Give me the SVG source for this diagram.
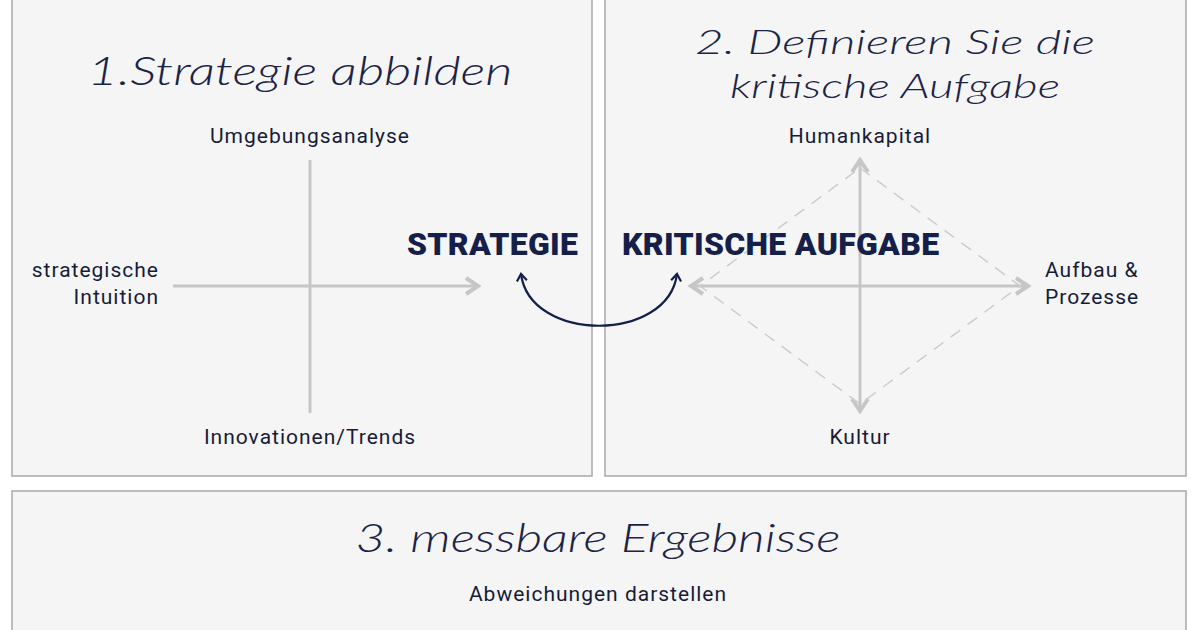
<svg xmlns="http://www.w3.org/2000/svg" width="1200" height="630" viewBox="0 0 1200 630">
<defs>
<style>
.panel{fill:#f5f5f5;stroke:#a9a9a9;stroke-width:1.5}
.script{font-family:Lato,"Liberation Serif",serif;font-style:italic;font-weight:300;fill:#1b2347;font-size:40px}
.script2{font-size:34px}
.lbl{font-family:Roboto,"Liberation Sans",sans-serif;fill:#161c38;font-size:21px;letter-spacing:1px}
.big{font-family:Roboto,"Liberation Sans",sans-serif;font-weight:900;fill:#15204a;font-size:32px;letter-spacing:0.3px}
.axis{stroke:#c6c6c6;stroke-width:3;fill:none}
.dash{stroke:#cdcdcd;stroke-width:1.5;fill:none;stroke-dasharray:12 9}
.curve{stroke:#15204a;stroke-width:2.2;fill:none}
</style>
<marker id="ga" viewBox="-14 -10 18 20" markerWidth="18" markerHeight="20" refX="0" refY="0" orient="auto-start-reverse" markerUnits="userSpaceOnUse">
<path d="M-12,-8 L0,0 L-12,8" fill="none" stroke="#c6c6c6" stroke-width="4" stroke-linejoin="miter"/>
</marker>
<marker id="na" viewBox="-10 -8 12 16" markerWidth="12" markerHeight="16" refX="0" refY="0" orient="auto-start-reverse" markerUnits="userSpaceOnUse">
<path d="M-7,-5 L0,0 L-7,5" fill="none" stroke="#15204a" stroke-width="2.2"/>
</marker>
</defs>
<rect width="1200" height="630" fill="#ffffff"/>
<g id="panel1">
<rect class="panel" x="12" y="-4" width="580" height="480"/>
<text class="script" x="300" y="85" text-anchor="middle" textLength="425" lengthAdjust="spacingAndGlyphs">1.Strategie abbilden</text>
<text class="lbl" x="310" y="143" text-anchor="middle">Umgebungsanalyse</text>
<text class="lbl" x="159" y="277" text-anchor="end">strategische</text>
<text class="lbl" x="159" y="304" text-anchor="end">Intuition</text>
<text class="lbl" x="310" y="444" text-anchor="middle">Innovationen/Trends</text>
</g>
<g id="panel2">
<rect class="panel" x="605" y="-4" width="581" height="480"/>
<text class="script script2" x="895" y="54" text-anchor="middle" textLength="400" lengthAdjust="spacingAndGlyphs">2. Definieren Sie die</text>
<text class="script script2" x="895" y="98" text-anchor="middle" textLength="330" lengthAdjust="spacingAndGlyphs">kritische Aufgabe</text>
<text class="lbl" x="860" y="143" text-anchor="middle">Humankapital</text>
<text class="lbl" x="1045" y="277">Aufbau &amp;</text>
<text class="lbl" x="1045" y="304">Prozesse</text>
<text class="lbl" x="860" y="444" text-anchor="middle">Kultur</text>
</g>
<g id="panel3">
<rect class="panel" x="12" y="491" width="1174" height="145"/>
<text class="script" x="598" y="552" text-anchor="middle" textLength="485" lengthAdjust="spacingAndGlyphs">3. messbare Ergebnisse</text>
<text class="lbl" x="598" y="601" text-anchor="middle">Abweichungen darstellen</text>
</g>
<g id="connectors">
<line class="axis" x1="310" y1="160" x2="310" y2="413"/>
<line class="axis" x1="173" y1="286" x2="478" y2="286" marker-end="url(#ga)"/>
<line class="axis" x1="860" y1="160" x2="860" y2="411" marker-start="url(#ga)" marker-end="url(#ga)"/>
<line class="axis" x1="691" y1="286" x2="1028" y2="286" marker-start="url(#ga)" marker-end="url(#ga)"/>
<path class="dash" d="M860,168 L1020,286 L860,404 L700,286 Z"/>
<path class="curve" d="M521,274 C530,343 668,343 677,274" marker-start="url(#na)" marker-end="url(#na)"/>
</g>
<g id="strategie">
<text class="big" x="407" y="255">STRATEGIE</text>
</g>
<g id="kritische-aufgabe">
<text class="big" x="622" y="255">KRITISCHE AUFGABE</text>
</g>
</svg>
